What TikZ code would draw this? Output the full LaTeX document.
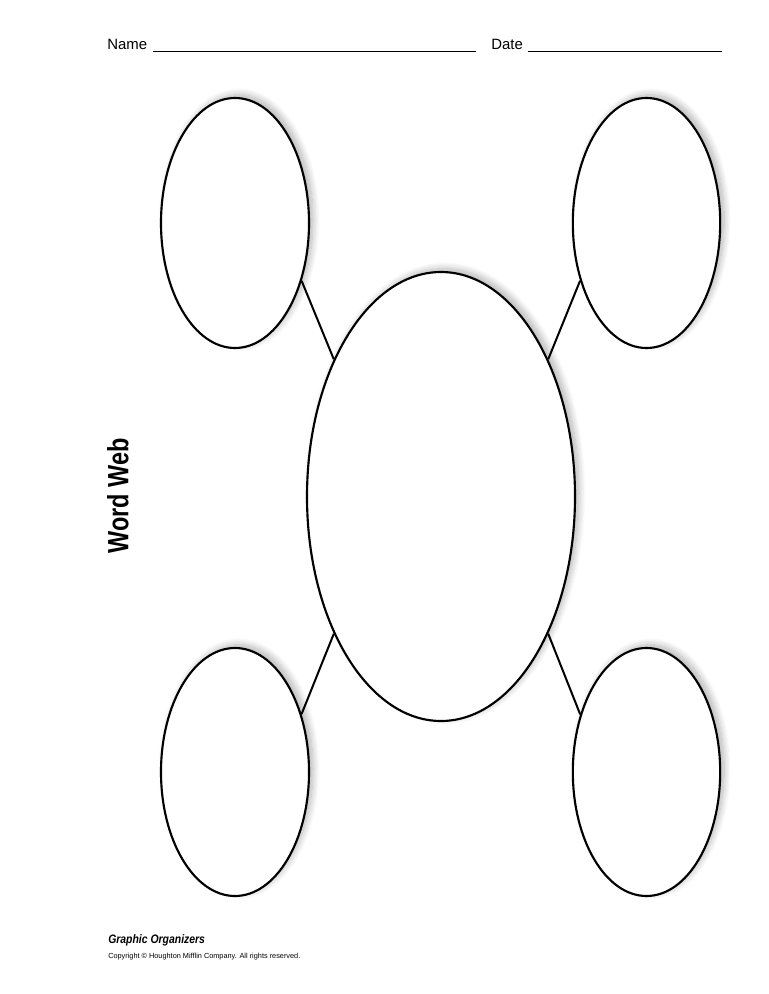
\documentclass[tikz,border=0pt]{standalone}
\usepackage{fontspec}
\setmainfont{Liberation Sans}
\usetikzlibrary{shapes.geometric,shadows.blur}

\tikzset{
	bubble/.style={ellipse, draw, line width=1.6pt, fill=white, inner sep=0pt,
		blur shadow={shadow xshift=3pt, shadow yshift=2.5pt, shadow blur radius=5pt, shadow blur steps=12, shadow opacity=30}},
	spoke/.style={line width=1.5pt},
	rule/.style={line width=0.7pt}
}

\begin{document}
\begin{tikzpicture}[x=0.75pt,y=0.75pt,yscale=-1,xscale=1]
	\useasboundingbox (0,0) rectangle (768,994);
	
	%Shape: Ellipse
	\node [bubble, minimum width=201pt, minimum height=336.75pt] (main) at (441,496.5) {};
	%Shape: Ellipse
	\node [bubble, minimum width=111pt, minimum height=187.5pt] (upleft) at (235,223) {};
	%Shape: Ellipse
	\node [bubble, minimum width=110.5pt, minimum height=187.5pt] (upright) at (646.5,223) {};
	%Shape: Ellipse
	\node [bubble, minimum width=111pt, minimum height=186pt] (lowleft) at (235,772) {};
	%Shape: Ellipse
	\node [bubble, minimum width=110.5pt, minimum height=186pt] (lowright) at (646.5,772) {};
	
	%Straight Lines
	\draw [spoke] (upleft.-41) -- (main.128);
	\draw [spoke] (upright.-139) -- (main.52);
	\draw [spoke] (lowleft.41) -- (main.232);
	\draw [spoke] (lowright.139) -- (main.-52);
	
	% Text Node
	\node [anchor=base west, inner sep=0pt, font=\fontsize{11.2}{13}\selectfont] (name) at (107,50) {Name};
	\coordinate (nameend) at (476,51);
	\draw [rule] (153,51) -- (nameend);
	% Text Node
	\node [anchor=base west, inner sep=0pt, font=\fontsize{11.2}{13}\selectfont] (date) at (491,50) {Date};
	\coordinate (dateend) at (722,51);
	\draw [rule] (528,51) -- (dateend);
	
	% Text Node
	\node [rotate=90, inner sep=0pt, font=\fontsize{22}{24}\selectfont\bfseries] (title) at (118,496) {\scalebox{0.8}[1]{Word Web}};
	
	% Text Node
	\node [anchor=base west, inner sep=0pt, font=\fontsize{9.2}{11}\selectfont\bfseries\itshape] (series) at (108,943) {\scalebox{0.85}[1]{Graphic Organizers}};
	% Text Node
	\node [anchor=base west, inner sep=0pt, font=\fontsize{5.5}{6.5}\selectfont] (copy) at (108,958) {Copyright \textcopyright\ Houghton Mifflin Company. All rights reserved.};
	
\end{tikzpicture}
\end{document}
